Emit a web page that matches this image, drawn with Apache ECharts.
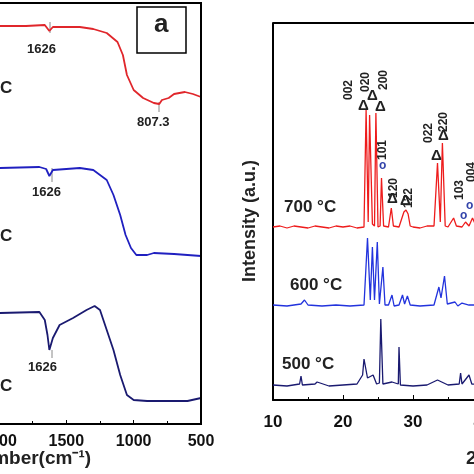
<!DOCTYPE html>
<html><head><meta charset="utf-8">
<script src="https://cdn.jsdelivr.net/npm/echarts@6/dist/echarts.min.js"></script>
<style>body{margin:0;background:#fff}#c{width:474px;height:474px}</style>
</head><body><div id="c"></div>
<script>
// FTIR (left) — wavenumber vs transmittance (y in plotted units, top = high)
var ir700 = [[2000,26],[1800,26],[1660,25],[1626,31],[1600,27],[1400,27],[1300,29],[1200,33],[1120,42],[1080,55],[1050,75],[1000,90],[930,98],[850,103],[810,104],[790,100],[740,98],[700,94],[620,92],[560,94],[500,97]];
var ir600 = [[2000,168],[1700,167],[1650,169],[1626,176],[1600,170],[1500,169],[1400,168],[1300,170],[1200,180],[1150,195],[1100,215],[1060,235],[1020,248],[980,255],[900,255],[850,253],[700,254],[500,256]];
var ir500 = [[2000,313],[1700,312],[1660,320],[1640,335],[1626,350],[1600,338],[1550,325],[1450,318],[1350,310],[1290,306],[1250,310],[1200,330],[1150,350],[1100,375],[1050,395],[1000,400],[900,401],[600,401],[500,398]];
// XRD (right) — 2theta vs intensity
var xrd700 = [[10,227],[11,226],[12,228],[13,226],[14,227],[15,228],[16,226],[17,227],[18,228],[19,226],[20,227],[21,226],[22,228],[23,227],[23.3,110],[23.6,222],[23.8,115],[24.2,224],[24.5,226],[24.7,113],[25,227],[25.3,226],[25.5,178],[25.8,226],[26.5,227],[26.9,208],[27.2,226],[28,227],[28.7,212],[29,210],[29.3,214],[29.6,226],[30,227],[31,228],[32,226],[33,226],[33.5,163],[33.9,222],[34.2,143],[34.6,226],[35,227],[35.8,218],[36.2,226],[37,227],[37.5,222],[38,226],[38.5,218],[39,226],[40,227]];
var xrd600 = [[10,305],[12,306],[14,304],[14.5,300],[15,305],[17,306],[19,305],[21,306],[23,305],[23.5,238],[23.9,300],[24.2,247],[24.5,300],[24.9,242],[25.2,304],[25.7,267],[26,305],[26.5,305],[27,295],[27.3,306],[28,305],[28.5,295],[28.8,304],[29.2,296],[29.6,305],[31,306],[33,305],[33.7,287],[34,298],[34.5,276],[34.9,304],[36,302],[36.4,306],[37,303],[38,305],[40,305]];
var xrd500 = [[10,385],[12,386],[13.8,384],[14,376],[14.2,385],[16,384],[16.3,382],[18,386],[20,385],[22,384],[22.8,375],[23,359],[23.5,378],[24.3,375],[24.8,384],[25.2,383],[25.4,319],[25.7,384],[27,382],[27.9,384],[28,347],[28.2,385],[30,386],[32,385],[33.5,380],[35,385],[36.6,384],[36.8,373],[37,384],[38,375],[38.4,384],[40,385]];

var chart = echarts.init(document.getElementById('c'));
var lab = {fontFamily:'Liberation Sans',fontWeight:'bold',fill:'#222'};
var R = Math.PI/2;
function t(x,y,s,size,rot,color,base){return {type:'text',x:x,y:y,rotation:rot||0,z:10,style:Object.assign({},lab,{text:s,fontSize:size||13,fill:color||'#222',verticalAlign:base||'top'})};}
var g = [
  {type:'rect',shape:{x:137,y:7,width:49,height:46},style:{fill:'#fff',stroke:'#000',lineWidth:1.5},z:10},
  t(154,12,'a',26),
  t(-40,80,'700 °C',17),t(-40,228,'600 °C',17),t(-40,378,'500 °C',17),
  t(27,43,'1626',13),t(32,186,'1626',13),t(28,361,'1626',13),t(137,116,'807.3',13),
  t(-80,449,'Wavenumber(cm⁻¹)',19),
  t(250,282,'Intensity (a.u.)',18,R,'#222','middle'),
  t(284,199,'700 °C',17),t(290,277,'600 °C',17),t(282,356,'500 °C',17),
  t(466,449,'2θ',19),
  t(349,100,'002',12,R,0,'middle'),t(366,92,'020',12,R,0,'middle'),t(384,90,'200',12,R,0,'middle'),
  t(383,160,'101',12,R,0,'middle'),t(394,198,'120',12,R,0,'middle'),t(409,208,'122',12,R,0,'middle'),
  t(429,143,'022',12,R,0,'middle'),t(444,132,'220',12,R,0,'middle'),t(460,200,'103',12,R,0,'middle'),t(472,182,'004',12,R,0,'middle'),
  t(358,98,'Δ',15),t(367,88,'Δ',15),t(375,99,'Δ',15),t(387,191,'Δ',15),t(400,193,'Δ',15),t(431,148,'Δ',15),t(438,128,'Δ',15),
  t(379,160,'o',12,0,'#3344aa'),t(460,210,'o',12,0,'#3344aa'),t(466,200,'o',12,0,'#3344aa'),
  {type:'rect',shape:{x:-2,y:3,width:203,height:421},style:{fill:'none',stroke:'#000',lineWidth:2},z:5},
  {type:'line',shape:{x1:273,y1:23,x2:480,y2:23},style:{stroke:'#000',lineWidth:2},z:5}
];
[[50,22,33],[52,168,182],[52,350,358],[159,102,112]].forEach(function(m){
  g.push({type:'line',shape:{x1:m[0],y1:m[1],x2:m[0],y2:m[2]},style:{stroke:'#888',lineWidth:1}});
});
var ax = {color:'#111',fontFamily:'Liberation Sans',fontWeight:'bold',fontSize:16};
var ln = function(d,c,gi,w){return {type:'line',data:d,xAxisIndex:gi,yAxisIndex:gi,showSymbol:false,lineStyle:{color:c,width:w},silent:true};};
chart.setOption({
  animation:false,
  grid:[{left:-1,top:3,width:202,height:421,outerBoundsMode:'none'},{left:273,top:23,width:210,height:377,outerBoundsMode:'none'}],
  xAxis:[
    {type:'value',gridIndex:0,inverse:true,min:500,max:2000,interval:500,
     axisLine:{lineStyle:{color:'#000',width:2}},axisTick:{inside:true,length:4,lineStyle:{color:'#000'}},minorTick:{show:true,splitNumber:2,length:3,lineStyle:{color:'#000'}},
     splitLine:{show:false},axisLabel:Object.assign({margin:10,formatter:function(v){return String(v);}},ax)},
    {type:'value',gridIndex:1,min:10,max:40,interval:10,
     axisLine:{lineStyle:{color:'#000',width:2}},axisTick:{inside:true,length:5,lineStyle:{color:'#000'}},minorTick:{show:true,splitNumber:2,length:3,lineStyle:{color:'#000'}},
     splitLine:{show:false},axisLabel:Object.assign({margin:14},ax,{fontSize:17})}
  ],
  yAxis:[
    {type:'value',gridIndex:0,inverse:true,min:3,max:424,axisLabel:{show:false},axisTick:{show:false},splitLine:{show:false},axisLine:{show:false}},
    {type:'value',gridIndex:1,inverse:true,min:23,max:400,axisLabel:{show:false},axisTick:{show:false},splitLine:{show:false},axisLine:{lineStyle:{color:'#000',width:2}}}
  ],
  series:[
    ln(ir700,'#e0262b',0,1.8),ln(ir600,'#2020c0',0,1.8),ln(ir500,'#1a1a70',0,1.8),
    ln(xrd700,'#ee1c1c',1,1.3),ln(xrd600,'#2233dd',1,1.3),ln(xrd500,'#1a1a70',1,1.3)
  ],
  graphic:g
});
</script></body></html>
